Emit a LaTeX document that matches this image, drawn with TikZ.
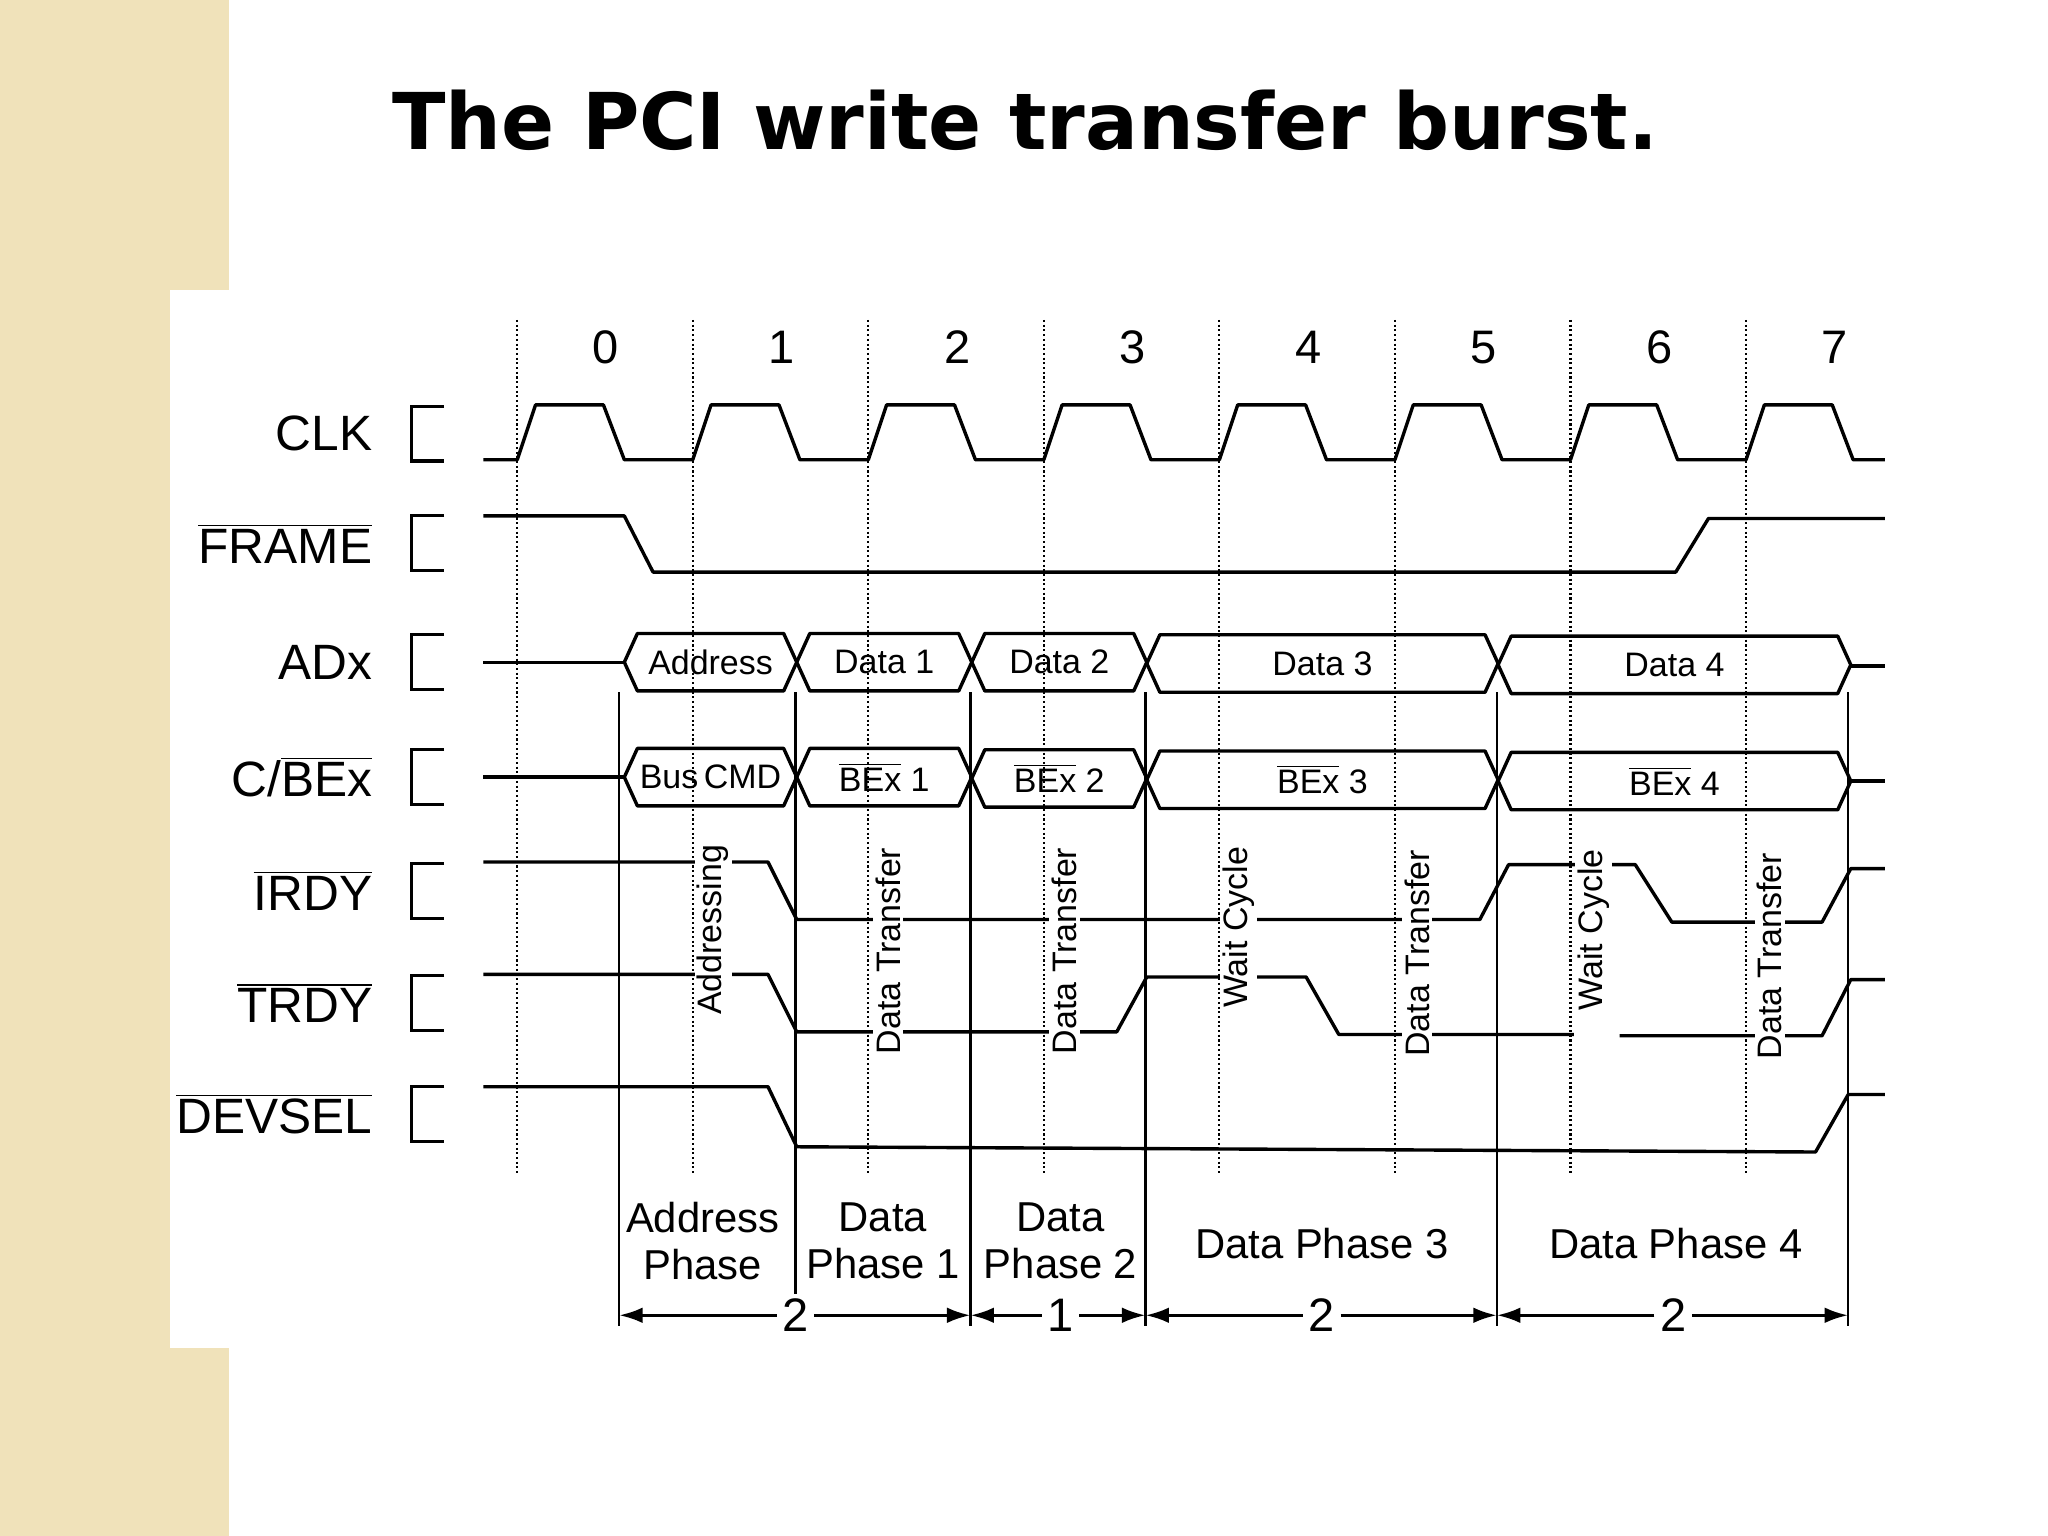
\documentclass[tikz,border=0pt]{standalone}
\usepackage{fontspec}
\setmainfont{Liberation Sans}
\newfontfamily\titlefont{DejaVu Sans}
\usetikzlibrary{arrows.meta}
\newcommand{\ovl}[1]{$\overline{\hbox{#1}}$}
\definecolor{beige}{RGB}{240,226,186}
\begin{document}
\begin{tikzpicture}[x=0.5pt,y=-0.5pt,
  wave/.style={line width=1.3pt,line join=round},
  grid/.style={densely dotted,line width=0.8pt},
  sig/.style={font=\fontsize{19}{21}\selectfont,anchor=east},
  hexlbl/.style={font=\fontsize{13}{15}\selectfont,inner sep=0pt},
  vlbl/.style={font=\fontsize{13}{15}\selectfont,rotate=90,fill=white,inner sep=1pt},
  plbl/.style={font=\fontsize{16}{18}\selectfont,align=center},
  num/.style={font=\fontsize{18}{20}\selectfont}]
\useasboundingbox (0,0) rectangle (1568,1176);
\fill[white] (0,0) rectangle (1568,1176);
\fill[beige] (0,0) rectangle (175,1176);
\fill[white] (130,222) rectangle (175,1032);
\node[font=\titlefont\fontsize{30}{34}\selectfont\bfseries] (title) at (785,92) {The PCI write transfer burst.};
% grid
\foreach \i [evaluate=\i as \x using 396+134.4*\i] in {0,...,7}{
  \draw[grid] (\x,245) -- (\x,900);
  \node[num] (n\i) at (\x+68,266) {\i};
}
% signal labels and brackets
\node[sig] (lclk) at (292,332) {CLK};
\node[sig] (lframe) at (292,416) {\ovl{FRAME}};
\node[sig] (ladx) at (292,507) {ADx};
\node[sig] (lcbe) at (292,595) {C/\ovl{BEx}};
\node[sig] (lirdy) at (292,682) {\ovl{IRDY}};
\node[sig] (ltrdy) at (292,768) {\ovl{TRDY}};
\node[sig] (ldevsel) at (292,853) {\ovl{DEVSEL}};
\foreach \y in {332,416,507,595,682,768,853}{
  \draw[line width=1.2pt] (340,\y-21) -- (315,\y-21) -- (315,\y+21) -- (340,\y+21);
}
% CLK
\draw[wave] (370,352) \foreach \i [evaluate=\i as \t using 396+134.4*\i] in {0,...,7}{
  -- (\t,352) -- (\t+14,310) -- (\t+66,310) -- (\t+82,352)} -- (1443,352);
% FRAME
\draw[wave] (370,395) -- (478,395) -- (500,438) -- (1283,438) -- (1308,397) -- (1443,397);
% hexagons
\newcommand{\hexa}[5]{\draw[wave] (#1,#3) -- (#1+10,#3-22) -- (#2-10,#3-22) -- (#2,#3) -- (#2-10,#3+22) -- (#1+10,#3+22) -- cycle;
  \node[hexlbl] (#5) at ({(#1+#2)/2},#3) {#4};}
\draw[wave] (370,507) -- (478,507); \draw[wave] (1417,510) -- (1443,510);
\hexa{478}{610}{507}{Address}{ha}
\hexa{610}{744}{507}{Data 1}{hd1}
\hexa{744}{878}{507}{Data 2}{hd2}
\hexa{878}{1147}{508}{Data 3}{hd3}
\hexa{1147}{1417}{509}{Data 4}{hd4}
\draw[wave] (370,595) -- (478,595); \draw[wave] (1417,598) -- (1443,598);
\hexa{478}{610}{595}{Bus\,CMD}{hb}
\hexa{610}{744}{595}{\ovl{BEx} 1}{hb1}
\hexa{744}{878}{596}{\ovl{BEx} 2}{hb2}
\hexa{878}{1147}{597}{\ovl{BEx} 3}{hb3}
\hexa{1147}{1417}{598}{\ovl{BEx} 4}{hb4}
% IRDY
\draw[wave] (370,660) -- (588,660) -- (610,704) -- (1133,704) -- (1155,662) -- (1252,662) -- (1280,706) -- (1395,706) -- (1417,665) -- (1443,665);
% TRDY
\draw[wave] (370,746) -- (588,746) -- (610,790) -- (855,790) -- (878,748) -- (1000,748) -- (1025,792) -- (1205,792);
\draw[wave] (1240,793) -- (1395,793) -- (1417,750) -- (1443,750);
% DEVSEL
\draw[wave] (370,832) -- (588,832) -- (610,878) -- (1390,882) -- (1415,838) -- (1443,838);
% vertical labels
\node[vlbl] (va) at (546,712) {Addressing};
\node[vlbl] (vt1) at (680,728) {Data Transfer};
\node[vlbl] (vt2) at (815,728) {Data Transfer};
\node[vlbl] (vw1) at (948,710) {Wait Cycle};
\node[vlbl] (vt3) at (1085,730) {Data Transfer};
\node[vlbl] (vw2) at (1220,712) {Wait Cycle};
\node[vlbl] (vt4) at (1355,732) {Data Transfer};
% phase boundaries
\foreach \x in {474,609,743,877,1146,1415}{\draw[line width=0.9pt] (\x,530) -- (\x,1015);}
\node[plbl] (pa) at (538,950) {Address\\Phase};
\node[plbl] (p1) at (676,950) {Data\\Phase 1};
\node[plbl] (p2) at (812,950) {Data\\Phase 2};
\node[plbl] (p3) at (1012,952) {Data Phase 3};
\node[plbl] (p4) at (1283,952) {Data Phase 4};
% duration arrows
\foreach \a/\b/\m/\t/\nm in {474/743/609/2/da,743/877/812/1/db,877/1146/1012/2/dc,1146/1415/1281/2/dd}{
  \node[num,fill=white,inner sep=2pt] (\nm) at (\m,1007) {\t};
  \draw[line width=1.2pt,-{Latex[length=9pt,width=6pt]}] (\nm.west) -- (\a,1007);
  \draw[line width=1.2pt,-{Latex[length=9pt,width=6pt]}] (\nm.east) -- (\b,1007);
}
\end{tikzpicture}
\end{document}
